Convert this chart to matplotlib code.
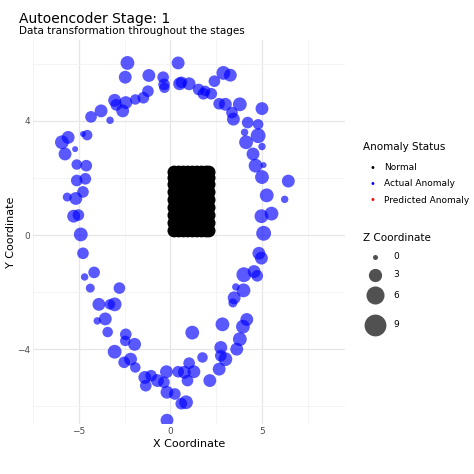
import matplotlib
matplotlib.use("Agg")
import matplotlib.pyplot as plt
from matplotlib.lines import Line2D

anom_x = [-2.35,0.42,-2.47,-1.18,-0.40,-0.33,0.50,1.02,1.54,1.80,2.23,2.40,2.89,3.27,2.66,3.0,3.79,3.36,3.44,5.0,4.22,4.79,4.79,4.13,4.51,4.65,5.0,6.44,5.26,6.24,5.52,4.97,5.09,4.83,4.97,4.01,4.57,4.74,3.99,3.57,3.48,3.41,4.17,3.96,3.79,3.62,2.84,2.75,2.75,3.0,2.66,2.15,1.75,1.19,1.02,1.28,0.93,0.76,0.42,0.85,0.59,0.24,-0.19,-0.22,-0.36,-0.71,-1.06,-1.40,-1.35,-0.19,-1.92,-2.18,-2.53,-1.96,-2.44,-2.47,-3.05,-3.43,-3.56,-4.0,-3.91,-3.31,-3.05,-2.79,-4.38,-4.17,-4.69,-4.78,-4.90,-5.03,-5.29,-5.64,-5.17,-4.78,-5.12,-4.65,-5.12,-4.60,-5.21,-5.76,-5.93,-5.59,-4.78,-4.55,-4.34,-3.79,-3.30,-3.05,-2.96,-2.61,-2.44,-1.92,-1.48,-1.23,5.0,5.09,4.05,1.9,0.6,-0.35]
anom_y = [6.03,6.03,5.53,5.59,5.53,5.16,5.30,5.30,5.10,4.95,4.95,5.39,5.68,5.60,4.60,4.58,4.58,4.29,4.06,4.43,3.94,3.88,3.48,3.25,2.84,2.43,2.03,1.89,1.39,1.25,0.75,0.66,0.06,-0.64,-0.81,-1.39,-1.28,-1.43,-1.94,-1.82,-2.20,-2.38,-2.96,-3.21,-3.65,-4.0,-3.13,-3.94,-4.23,-4.35,-4.70,-5.10,-4.29,-3.42,-4.49,-4.79,-5.10,-4.81,-4.79,-5.86,-5.91,-5.57,-5.51,-4.79,-5.16,-5.10,-4.93,-4.99,-5.28,-6.49,-4.64,-4.35,-4.46,-3.83,-3.48,-3.71,-4.09,-3.40,-2.94,-3.01,-2.43,-2.43,-2.43,-1.86,-1.86,-1.31,-1.47,-0.64,0.02,0.70,0.66,1.33,1.28,1.51,1.91,1.97,2.47,2.43,3.01,2.84,3.25,3.42,3.54,3.50,4.14,4.35,4.02,4.72,4.56,4.35,4.64,4.75,4.81,5.04,3.10,2.45,3.60,5.05,5.35,5.28]
anom_z = [3.3,2.8,2.8,2.8,2.2,1.7,2.8,2.8,2.2,2.2,2.2,2.2,3.3,2.8,2.2,2.8,3.3,2.2,2.8,2.8,2.2,1.7,3.9,3.3,2.8,3.3,3.3,2.8,3.3,0.6,3.3,3.3,3.9,2.8,2.8,3.9,2.8,2.2,3.3,0.6,2.8,1.1,2.8,3.3,3.3,2.8,3.3,2.8,2.2,3.3,2.8,2.8,1.7,3.3,2.2,2.8,2.2,2.8,2.2,3.3,2.2,2.2,2.8,2.8,2.2,2.8,2.2,2.8,2.2,2.8,1.7,2.8,2.2,2.8,2.2,1.7,3.3,1.7,2.8,0.6,2.8,1.7,3.3,2.2,1.1,2.2,0.6,2.2,3.3,2.2,2.8,1.1,2.8,2.2,2.2,2.2,1.7,2.2,0.2,2.8,3.3,2.8,0.2,1.7,2.2,2.8,0.6,2.8,2.2,2.8,2.8,1.7,2.2,2.2,0.6,0.2,0.6,1.7,2.2,2.2]

# normal points (dense cluster in [0, 2.2] x [0, 2.3])
norm_x = [0.2, 0.45, 0.7, 0.95, 1.2, 1.45, 1.7, 1.95, 2.1] * 9
norm_y = sum([[v] * 9 for v in [0.15, 0.42, 0.69, 0.96, 1.23, 1.5, 1.77, 2.0, 2.2]], [])
norm_z = [3.0] * 81

def sz(z):
    return [13 + 26*v for v in z]

fig = plt.figure(figsize=(4.74, 4.74), dpi=100)
ax = fig.add_axes([0.07, 0.105, 0.658, 0.811])
ax.set_xlim(-6.55, 9.54)
ax.set_ylim(-6.63, 6.84)
for s in ax.spines.values():
    s.set_visible(False)
ax.set_xticks([-5, 0, 5])
ax.set_yticks([-4, 0, 4])
ax.set_xticks([-7.5, -2.5, 2.5, 7.5], minor=True)
ax.set_yticks([-6, -2, 2, 6], minor=True)
ax.grid(True, which="major", color="#e6e6e6", lw=0.9)
ax.grid(True, which="minor", color="#f2f2f2", lw=0.6)
ax.tick_params(which="both", length=0, labelsize=6.5, labelcolor="#4d4d4d", pad=2)
ax.set_axisbelow(True)

ax.scatter(norm_x, norm_y, s=sz(norm_z), c="black", marker="o", linewidths=0, zorder=2)
ax.scatter(anom_x, anom_y, s=sz(anom_z), c="blue", alpha=0.65, linewidths=0, zorder=3)
ax.set_xlabel("X Coordinate", fontsize=8, labelpad=2)
ax.set_ylabel("Y Coordinate", fontsize=8, labelpad=1)

fig.text(0.04, 0.975, "Autoencoder Stage: 1", fontsize=10, va="top")
fig.text(0.04, 0.945, "Data transformation throughout the stages", fontsize=7.5, va="top")

fig.text(0.765, 0.69, "Anomaly Status", fontsize=7.5, va="center")
status = ["Normal", "Actual Anomaly", "Predicted Anomaly"]
scol = ["black", "blue", "red"]
ys = [0.646, 0.612, 0.578]
for lab, c, yy in zip(status, scol, ys):
    fig.text(0.785, yy, "\u2022", color=c, fontsize=7, va="center", ha="center")
    fig.text(0.81, yy, lab, fontsize=6.5, va="center")
fig.text(0.765, 0.497, "Z Coordinate", fontsize=7.5, va="center")
zvals = [0, 3, 6, 9]
zy = [0.458, 0.42, 0.377, 0.315]
for z, yy in zip(zvals, zy):
    fig.add_artist(Line2D([0.792], [yy], marker="o", markersize=(13 + 26*z) ** 0.5,
                          color="#333333", alpha=0.85, markeredgewidth=0, transform=fig.transFigure))
    fig.text(0.83, yy, str(z), fontsize=6.5, va="center")

fig.savefig("out.png", dpi=100, facecolor="white")
